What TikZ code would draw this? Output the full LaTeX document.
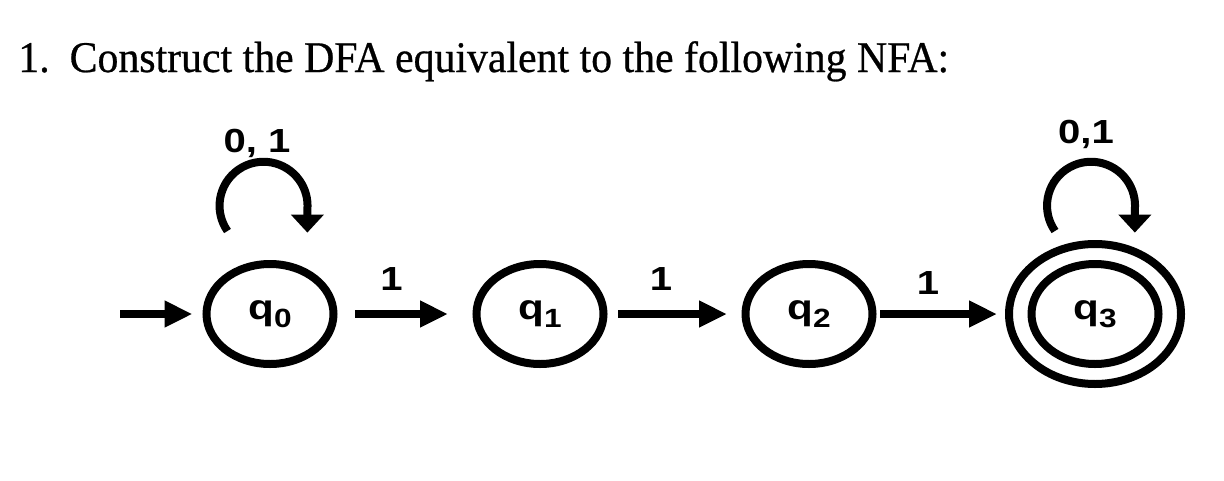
\documentclass[tikz,border=0pt]{standalone}
\usepackage{fontspec}
\setmainfont{Liberation Serif}
\newfontfamily\titlefont[FakeStretch=0.955,FakeBold=0.6]{Liberation Serif}
\newfontfamily\statefont[FakeStretch=1.2]{Liberation Sans}
\usetikzlibrary{arrows.meta,shapes.geometric}
\newcommand{\qsub}[1]{q\raisebox{-0.24em}{\fontsize{15}{15}\selectfont #1}}
\tikzset{
    nfastate/.style={ellipse, draw=black, line width=0.16cm, minimum width=2.54cm, minimum height=2.00cm,
                     inner sep=0pt, font=\statefont\bfseries\fontsize{20}{22}\selectfont},
    acceptring/.style={draw=black, line width=0.16cm},
    trans/.style={line width=0.16cm, -{Triangle[length=0.56cm,width=0.50cm]}},
    selfloop/.style={line width=0.16cm, -{Triangle[length=0.36cm,width=0.64cm]}},
    symbol/.style={inner sep=0pt, font=\statefont\bfseries\fontsize{19}{21}\selectfont},
}

\begin{document}
\begin{tikzpicture}
        \useasboundingbox (0,0) rectangle (24.48,9.60);
        \node[anchor=base west, inner sep=0pt, font=\titlefont\fontsize{24.9}{28}\selectfont] (title) at (0.36, 8.16)
             {1.\hspace{0.40cm}Construct the DFA equivalent to the following NFA:};
        % states
        \node[nfastate]                                        (q0) at ( 5.40, 3.32) {\qsub{0}};
        \node[nfastate]                                        (q1) at (10.80, 3.32) {\qsub{1}};
        \node[nfastate]                                        (q2) at (16.18, 3.32) {\qsub{2}};
        \node[nfastate, minimum width=3.44cm, minimum height=2.80cm] (q3) at (21.90, 3.32) {\qsub{3}};
        \draw[acceptring] (q3.center) ellipse (1.27 and 1.00);
        \coordinate (init) at (2.40, 3.32);
        % transitions
        \draw[trans, shorten >=0.20cm]                   (init) -- (q0);
        \draw[trans, shorten <=0.35cm, shorten >=0.49cm] (q0) -- node[symbol, above=0.40cm, pos=0.4] (s01) {1} (q1);
        \draw[trans, shorten <=0.21cm, shorten >=0.29cm] (q1) -- node[symbol, above=0.40cm, pos=0.4] (s12) {1} (q2);
        \draw[trans, shorten <=0.07cm, shorten >=0.16cm] (q2) -- node[symbol, above=0.32cm, pos=0.4] (s23) {1} (q3);
        % self loops
        \draw[selfloop] ([shift={(-0.85,1.66)}]q0.center) arc[start angle=215, end angle=-5, radius=0.88] -- ++(0,-0.46);
        \draw[selfloop] ([shift={(-0.80,1.66)}]q3.center) arc[start angle=215, end angle=-5, radius=0.88] -- ++(0,-0.46);
        \node[symbol, anchor=base] (l0) at ( 5.14, 6.56) {0, 1};
        \node[symbol, anchor=base] (l3) at (21.72, 6.74) {0,1};
\end{tikzpicture}
\end{document}
